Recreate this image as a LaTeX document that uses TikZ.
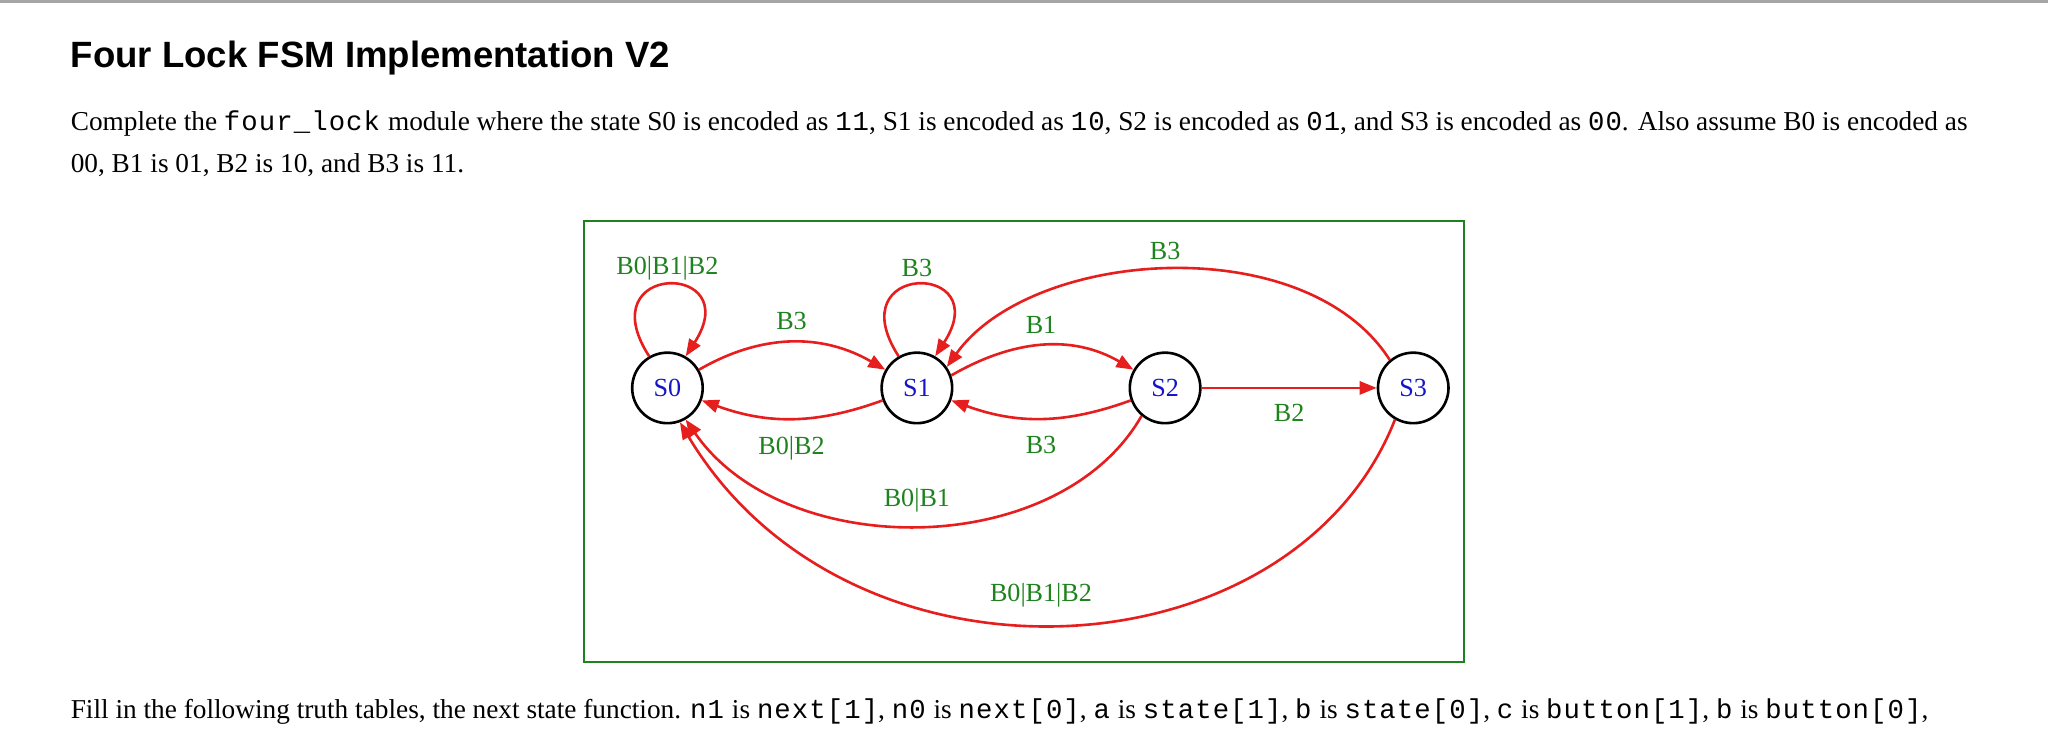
\documentclass[tikz,border=0pt]{standalone}
\usepackage{fontspec}
\setmainfont{Liberation Serif}
\setsansfont{Liberation Sans}
\setmonofont[Scale=1.0,LetterSpace=4]{Liberation Mono}
\usetikzlibrary{arrows.meta}
\definecolor{lgreen}{RGB}{30,130,30}
\definecolor{sblue}{RGB}{20,20,200}
\definecolor{ered}{RGB}{230,30,30}
\tikzset{
  st/.style={circle,draw=black,line width=2pt,minimum size=54pt,inner sep=0pt,text=sblue,font=\fontsize{20}{24}\selectfont},
  ed/.style={draw=ered,line width=2pt,-{Triangle[length=13pt,width=10pt]}},
  lb/.style={text=lgreen,font=\fontsize{20}{24}\selectfont},
  body/.style={anchor=base west,inner sep=0pt,font=\fontsize{20.9}{24}\selectfont}
}
\begin{document}
\begin{tikzpicture}[x=1pt,y=-1pt]
\useasboundingbox (0,0) rectangle (1568,570);
\fill[gray!70] (0,0) rectangle (1568,2);
\node[body,font=\sffamily\bfseries\fontsize{28}{32}\selectfont] (title) at (54,52) {Four Lock FSM Implementation V2};
\node[body] (p1) at (54,100) {Complete the \texttt{four\_lock} module where the state S0 is encoded as \texttt{11}, S1 is encoded as \texttt{10}, S2 is encoded as \texttt{01}, and S3 is encoded as \texttt{00}. Also assume B0 is encoded as};
\node[body] (p2) at (54,132) {00, B1 is 01, B2 is 10, and B3 is 11.};
\node[body] (p3) at (54,550) {Fill in the following truth tables, the next state function. \texttt{n1} is \texttt{next[1]}, \texttt{n0} is \texttt{next[0]}, \texttt{a} is \texttt{state[1]}, \texttt{b} is \texttt{state[0]}, \texttt{c} is \texttt{button[1]}, \texttt{b} is \texttt{button[0]},};
\draw[lgreen,line width=1.5pt] (447,169) rectangle (1121,507);
\node[st] (s0) at (511,297) {S0};
\node[st] (s1) at (702,297) {S1};
\node[st] (s2) at (892,297) {S2};
\node[st] (s3) at (1082,297) {S3};
\draw[ed] (s0.120) .. controls (450,200) and (572,200) .. (s0.60);
\node[lb] (l0) at (511,205) {B0|B1|B2};
\draw[ed] (s1.120) .. controls (641,200) and (763,200) .. (s1.60);
\node[lb] (l1) at (702,205) {B3};
\draw[ed] (s0.30) to[out=30,in=150] (s1.150);
\node[lb] (l2) at (606,246) {B3};
\draw[ed] (s1.200) to[out=200,in=-20] (s0.-20);
\node[lb] (l3) at (606,343) {B0|B2};
\draw[ed] (s1.20) to[out=30,in=150] (s2.150);
\node[lb] (l4) at (797,249) {B1};
\draw[ed] (s2.200) to[out=200,in=-20] (s1.-20);
\node[lb] (l5) at (797,341) {B3};
\draw[ed] (s2) -- (s3);
\node[lb] (l6) at (987,316) {B2};
\draw[ed] (s3.130) .. controls (1000,175) and (790,190) .. (s1.35);
\node[lb] (l7) at (892,192) {B3};
\draw[ed] (s2.-130) .. controls (810,430) and (600,430) .. (s0.-60);
\node[lb] (l8) at (702,383) {B0|B1};
\draw[ed] (s3.-120) .. controls (990,520) and (650,540) .. (s0.-70);
\node[lb] (l9) at (797,456) {B0|B1|B2};
\end{tikzpicture}
\end{document}
